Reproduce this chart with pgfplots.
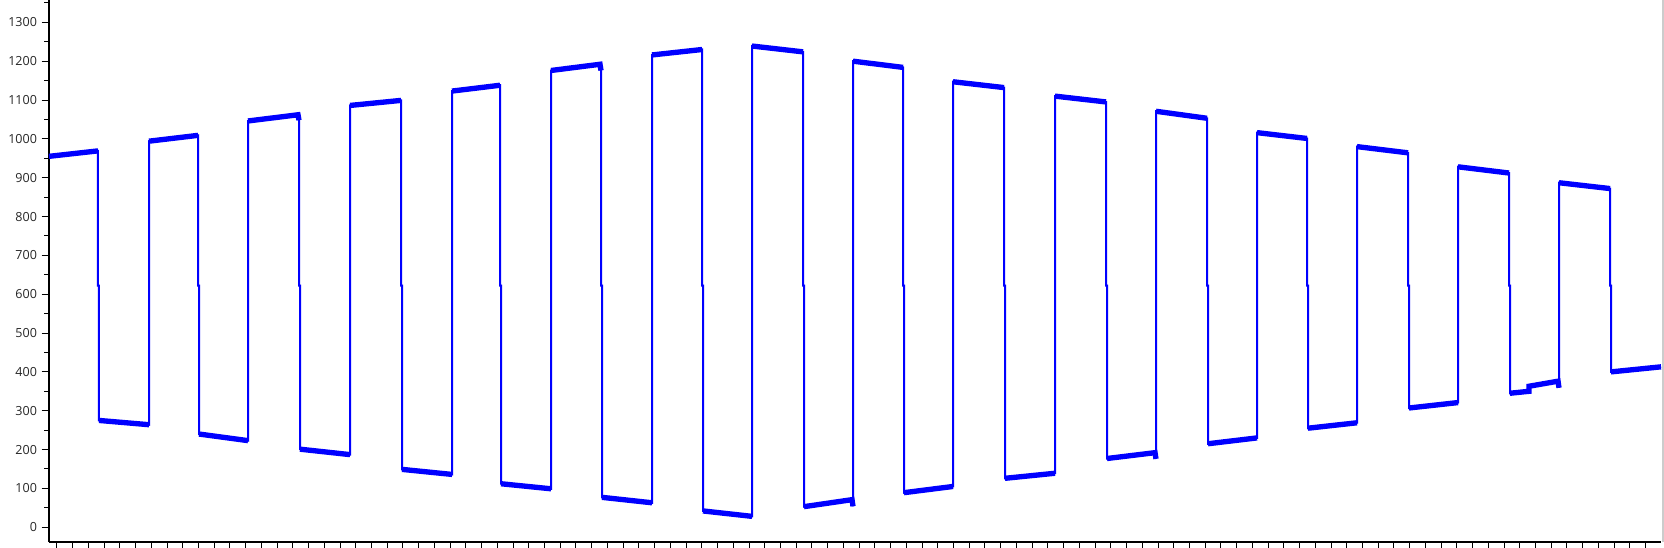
\documentclass[border=0pt]{standalone}
\usepackage{fontspec}
\setmainfont{Open Sans}
\usepackage{pgfplots}
\usepackage{pgfplotstable}
\pgfplotsset{compat=1.18}

% plateau segments (x in screen px, y value); nan rows break the line
\pgfplotstableread{
x y
49 955
98 969
nan nan
99 275
149 264
nan nan
149 994
198 1009
nan nan
199 240
248 223
nan nan
248 1046
298 1062
299 1048
nan nan
300 201
350 187
nan nan
350 1086
401 1099
nan nan
402 149
452 136
nan nan
452 1123
500 1138
nan nan
501 112
551 99
nan nan
551 1176
600 1192
601 1176
nan nan
602 77
652 63
nan nan
652 1216
702 1230
nan nan
703 42
752 28
nan nan
752 1239
803 1224
nan nan
804 53
852 71
853 54
nan nan
853 1200
903 1184
nan nan
904 89
953 105
nan nan
953 1147
1004 1132
nan nan
1005 126
1055 139
nan nan
1055 1110
1106 1095
nan nan
1107 177
1155 192
1156 176
nan nan
1156 1071
1207 1053
nan nan
1208 215
1257 230
nan nan
1257 1016
1307 1001
nan nan
1308 255
1357 269
nan nan
1357 980
1408 964
nan nan
1409 307
1458 321
nan nan
1458 928
1509 912
nan nan
1510 345
1529 350
1529 363
1558 376
1559 359
nan nan
1559 887
1610 872
nan nan
1611 400
1661 413
}\plateaus

\begin{document}
\begin{tikzpicture}
\begin{axis}[
  name=ax,
  scale only axis,
  width=1209pt, height=406.5pt,
  xmin=49, xmax=1661,
  ymin=-38, ymax=1357.5,
  axis lines=left,
  axis line style={-, black, line width=0.9pt},
  xtick={56.9,72.63,...,1662},
  xticklabels={},
  ytick={0,100,...,1300},
  minor ytick={50,150,...,1350},
  tick align=outside,
  major tick length=5.5pt,
  minor tick length=3.5pt,
  tick style={black, line width=0.75pt},
  yticklabel style={font=\fontsize{9.4}{11}\selectfont, text=black!85},
  /pgf/number format/assume math mode=true,
  /pgf/number format/1000 sep={},
  unbounded coords=jump,
  clip=false,
]
% full trace with the vertical transitions
\addplot[blue, line width=1.5pt, line join=miter] coordinates {
(49,955) (98,969) (98,622) (99,622) (99,275) (149,264)
(149,994) (198,1009) (198,622) (199,622) (199,240) (248,223)
(248,1046) (298,1062) (299,1048) (299,622) (300,622) (300,201) (350,187)
(350,1086) (401,1099) (401,622) (402,622) (402,149) (452,136)
(452,1123) (500,1138) (500,622) (501,622) (501,112) (551,99)
(551,1176) (600,1192) (601,1176) (601,622) (602,622) (602,77) (652,63)
(652,1216) (702,1230) (702,622) (703,622) (703,42) (752,28)
(752,1239) (803,1224) (803,622) (804,622) (804,53) (852,71) (853,54)
(853,1200) (903,1184) (903,622) (904,622) (904,89) (953,105)
(953,1147) (1004,1132) (1004,622) (1005,622) (1005,126) (1055,139)
(1055,1110) (1106,1095) (1106,622) (1107,622) (1107,177) (1155,192) (1156,176)
(1156,1071) (1207,1053) (1207,622) (1208,622) (1208,215) (1257,230)
(1257,1016) (1307,1001) (1307,622) (1308,622) (1308,255) (1357,269)
(1357,980) (1408,964) (1408,622) (1409,622) (1409,307) (1458,321)
(1458,928) (1509,912) (1509,622) (1510,622) (1510,345) (1529,350) (1529,363) (1558,376) (1559,359)
(1559,887) (1610,872) (1610,622) (1611,622) (1611,400) (1661,413)
};
% thick plateaus
\addplot[blue, line width=4pt] table[x=x, y=y] {\plateaus};
\draw[black!20, line width=1.5pt] ([xshift=1.5pt]rel axis cs:1,0) -- ([xshift=1.5pt]rel axis cs:1,1);
\coordinate (bl) at (rel axis cs:0,0);
\coordinate (tr) at (rel axis cs:1,1);
\end{axis}
\pgfresetboundingbox
\path[use as bounding box] ([xshift=-36.75pt, yshift=-3.75pt]bl) rectangle ([xshift=2.25pt]tr);
\end{tikzpicture}
\end{document}
